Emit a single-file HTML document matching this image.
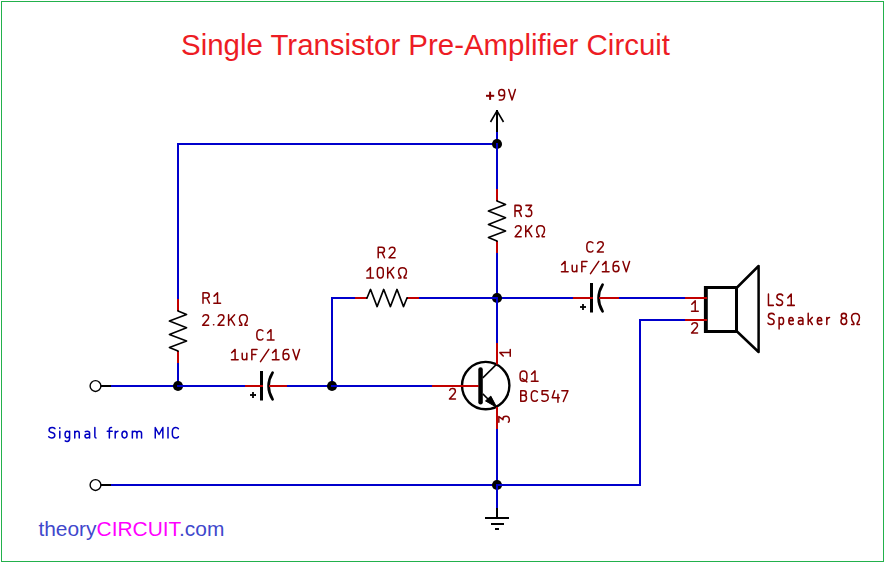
<!DOCTYPE html>
<html><head><meta charset="utf-8"><style>html,body{margin:0;padding:0;background:#fff;overflow:hidden}svg{display:block}</style></head>
<body><svg width="885" height="563" viewBox="0 0 885 563">
<rect width="885" height="563" fill="#fff"/>
<path d="M1,1H884V2H1Z M1,561H884V562H1Z M1,1H2V562H1Z M883,1H884V562H883Z" fill="#22B14C"/>
<text x="181" y="54.8" font-family="Liberation Sans, sans-serif" font-size="30" fill="#ED1C24" text-anchor="start" textLength="489" lengthAdjust="spacingAndGlyphs" >Single Transistor Pre-Amplifier Circuit</text>
<text x="38.4" y="535.5" font-family="Liberation Sans, sans-serif" font-size="21" textLength="186" lengthAdjust="spacingAndGlyphs"><tspan fill="#3F48CC">theory</tspan><tspan fill="#FF00FF">CIRCUIT</tspan><tspan fill="#3F48CC">.com</tspan></text>
<line x1="178" y1="144" x2="497" y2="144" stroke="#0000CC" stroke-width="2" stroke-linecap="square"/>
<line x1="178" y1="144" x2="178" y2="299" stroke="#0000CC" stroke-width="2" stroke-linecap="square"/>
<line x1="497" y1="132" x2="497" y2="144" stroke="#0000CC" stroke-width="2" stroke-linecap="square"/>
<line x1="497" y1="253" x2="497" y2="298" stroke="#0000CC" stroke-width="2" stroke-linecap="square"/>
<line x1="497" y1="298" x2="573" y2="298" stroke="#0000CC" stroke-width="2" stroke-linecap="square"/>
<line x1="178" y1="363" x2="178" y2="386" stroke="#0000CC" stroke-width="2" stroke-linecap="square"/>
<line x1="111" y1="386" x2="178" y2="386" stroke="#0000CC" stroke-width="2" stroke-linecap="square"/>
<line x1="332" y1="298" x2="332" y2="386" stroke="#0000CC" stroke-width="2" stroke-linecap="square"/>
<line x1="332" y1="298" x2="355" y2="298" stroke="#0000CC" stroke-width="2" stroke-linecap="square"/>
<line x1="287" y1="386" x2="332" y2="386" stroke="#0000CC" stroke-width="2" stroke-linecap="square"/>
<line x1="497" y1="429" x2="497" y2="485" stroke="#0000CC" stroke-width="2" stroke-linecap="square"/>
<line x1="111" y1="485" x2="497" y2="485" stroke="#0000CC" stroke-width="2" stroke-linecap="square"/>
<line x1="619" y1="298" x2="685" y2="298" stroke="#0000CC" stroke-width="2" stroke-linecap="square"/>
<line x1="640" y1="320" x2="685" y2="320" stroke="#0000CC" stroke-width="2" stroke-linecap="square"/>
<line x1="640" y1="320" x2="640" y2="485" stroke="#0000CC" stroke-width="2" stroke-linecap="square"/>
<rect x="260.0" y="371" width="3" height="29.5" fill="#000"/>
<path d="M272.6,372.6 Q264.6,386 272.6,399.4" fill="none" stroke="#000" stroke-width="2.7" stroke-linecap="round"/>
<line x1="250.0" y1="395" x2="256.0" y2="395" stroke="#000000" stroke-width="1.8" stroke-linecap="butt"/>
<line x1="253.0" y1="392" x2="253.0" y2="398" stroke="#000000" stroke-width="1.8" stroke-linecap="butt"/>
<rect x="590.0" y="283" width="3" height="29.5" fill="#000"/>
<path d="M602.6,284.6 Q594.6,298 602.6,311.4" fill="none" stroke="#000" stroke-width="2.7" stroke-linecap="round"/>
<line x1="580.0" y1="307" x2="586.0" y2="307" stroke="#000000" stroke-width="1.8" stroke-linecap="butt"/>
<line x1="583.0" y1="304" x2="583.0" y2="310" stroke="#000000" stroke-width="1.8" stroke-linecap="butt"/>
<line x1="497" y1="110" x2="497" y2="132" stroke="#000000" stroke-width="2" stroke-linecap="butt"/>
<polyline points="490.5,122 497,110.8 503.5,122" fill="none" stroke="#000000" stroke-width="1.6" stroke-linejoin="round" stroke-linecap="butt"/>
<line x1="497" y1="508" x2="497" y2="518" stroke="#000000" stroke-width="2" stroke-linecap="butt"/>
<line x1="485" y1="518" x2="509" y2="518" stroke="#000000" stroke-width="2" stroke-linecap="butt"/>
<line x1="491" y1="524" x2="504" y2="524" stroke="#000000" stroke-width="2" stroke-linecap="butt"/>
<line x1="495" y1="529" x2="499" y2="529" stroke="#000000" stroke-width="2" stroke-linecap="butt"/>
<circle cx="95.5" cy="386.05" r="5.4" fill="#fff" stroke="#000" stroke-width="1.4"/>
<line x1="100.7" y1="386" x2="111" y2="386" stroke="#000000" stroke-width="2" stroke-linecap="butt"/>
<circle cx="95.5" cy="485.05" r="5.4" fill="#fff" stroke="#000" stroke-width="1.4"/>
<line x1="100.7" y1="485" x2="111" y2="485" stroke="#000000" stroke-width="2" stroke-linecap="butt"/>
<circle cx="485.7" cy="385.6" r="23.7" fill="none" stroke="#000" stroke-width="2.4"/>
<line x1="480.55" y1="369.6" x2="480.55" y2="402.3" stroke="#000000" stroke-width="4.5" stroke-linecap="round"/>
<line x1="476" y1="386" x2="478.5" y2="386" stroke="#000000" stroke-width="2" stroke-linecap="butt"/>
<line x1="482.8" y1="377.9" x2="496.7" y2="364.1" stroke="#000000" stroke-width="1.5" stroke-linecap="butt"/>
<line x1="482.8" y1="393.9" x2="492" y2="403" stroke="#000000" stroke-width="1.5" stroke-linecap="butt"/>
<polygon points="496.7,407.3 485.5,400.9 490.8,396.1" fill="#000" stroke="#000" stroke-width="1"/>
<path d="M705.8,287.6 H736.5 V331.4 H705.8 Z" fill="none" stroke="#000" stroke-width="3"/>
<line x1="705.8" y1="286" x2="705.8" y2="333" stroke="#000000" stroke-width="3.8" stroke-linecap="butt"/>
<polyline points="736.5,288 758.6,266 758.6,352 736.5,331" fill="none" stroke="#000000" stroke-width="2.5" stroke-linejoin="round" stroke-linecap="round"/>
<line x1="178" y1="299" x2="178" y2="311" stroke="#C20000" stroke-width="2" stroke-linecap="butt"/>
<line x1="178" y1="351" x2="178" y2="363" stroke="#C20000" stroke-width="2" stroke-linecap="butt"/>
<line x1="497" y1="189" x2="497" y2="201" stroke="#C20000" stroke-width="2" stroke-linecap="butt"/>
<line x1="497" y1="241" x2="497" y2="253" stroke="#C20000" stroke-width="2" stroke-linecap="butt"/>
<line x1="355" y1="298" x2="367" y2="298" stroke="#C20000" stroke-width="2" stroke-linecap="butt"/>
<line x1="407" y1="298" x2="419" y2="298" stroke="#C20000" stroke-width="2" stroke-linecap="butt"/>
<line x1="245" y1="386" x2="263" y2="386" stroke="#C20000" stroke-width="2" stroke-linecap="butt"/>
<line x1="269" y1="386" x2="287" y2="386" stroke="#C20000" stroke-width="2" stroke-linecap="butt"/>
<line x1="573" y1="298" x2="593" y2="298" stroke="#C20000" stroke-width="2" stroke-linecap="butt"/>
<line x1="599" y1="298" x2="619" y2="298" stroke="#C20000" stroke-width="2" stroke-linecap="butt"/>
<line x1="685" y1="298" x2="707" y2="298" stroke="#C20000" stroke-width="2" stroke-linecap="butt"/>
<line x1="685" y1="320" x2="707" y2="320" stroke="#C20000" stroke-width="2" stroke-linecap="butt"/>
<line x1="432" y1="386" x2="478.5" y2="386" stroke="#C20000" stroke-width="2" stroke-linecap="butt"/>
<line x1="497" y1="343" x2="497" y2="364.4" stroke="#C20000" stroke-width="2" stroke-linecap="butt"/>
<line x1="497" y1="406.9" x2="497" y2="429" stroke="#C20000" stroke-width="2" stroke-linecap="butt"/>
<polyline points="178,311 186.6,314.5 169.4,321.1 186.6,327.7 169.4,334.4 186.6,341.0 169.4,347.5 178,351" fill="none" stroke="#000000" stroke-width="1.6" stroke-linejoin="round" stroke-linecap="butt"/>
<line x1="178" y1="310.2" x2="178" y2="311.6" stroke="#000000" stroke-width="1.8" stroke-linecap="butt"/>
<line x1="178" y1="350.4" x2="178" y2="351.8" stroke="#000000" stroke-width="1.8" stroke-linecap="butt"/>
<polyline points="497,201 505.6,204.5 488.4,211.1 505.6,217.7 488.4,224.4 505.6,231.0 488.4,237.5 497,241" fill="none" stroke="#000000" stroke-width="1.6" stroke-linejoin="round" stroke-linecap="butt"/>
<line x1="497" y1="200.2" x2="497" y2="201.6" stroke="#000000" stroke-width="1.8" stroke-linecap="butt"/>
<line x1="497" y1="240.4" x2="497" y2="241.8" stroke="#000000" stroke-width="1.8" stroke-linecap="butt"/>
<polyline points="367,298 370.5,289.4 377.1,306.6 383.7,289.4 390.4,306.6 397.0,289.4 403.5,306.6 407,298" fill="none" stroke="#000000" stroke-width="1.6" stroke-linejoin="round" stroke-linecap="butt"/>
<line x1="366.2" y1="298" x2="367.6" y2="298" stroke="#000000" stroke-width="1.8" stroke-linecap="butt"/>
<line x1="406.4" y1="298" x2="407.8" y2="298" stroke="#000000" stroke-width="1.8" stroke-linecap="butt"/>
<circle cx="497" cy="144" r="5.05" fill="#000"/>
<circle cx="497" cy="298" r="5.05" fill="#000"/>
<circle cx="178" cy="386" r="5.05" fill="#000"/>
<circle cx="332" cy="386" r="5.05" fill="#000"/>
<circle cx="497" cy="485" r="5.05" fill="#000"/>
<line x1="497" y1="144" x2="497" y2="188" stroke="#0000CC" stroke-width="2" stroke-linecap="square"/>
<line x1="178" y1="386" x2="244" y2="386" stroke="#0000CC" stroke-width="2" stroke-linecap="square"/>
<line x1="332" y1="386" x2="431" y2="386" stroke="#0000CC" stroke-width="2" stroke-linecap="square"/>
<line x1="420" y1="298" x2="497" y2="298" stroke="#0000CC" stroke-width="2" stroke-linecap="square"/>
<line x1="497" y1="298" x2="497" y2="342" stroke="#0000CC" stroke-width="2" stroke-linecap="square"/>
<line x1="497" y1="485" x2="640" y2="485" stroke="#0000CC" stroke-width="2" stroke-linecap="square"/>
<line x1="497" y1="485" x2="497" y2="507" stroke="#0000CC" stroke-width="2" stroke-linecap="square"/>
<g transform="translate(514.25,216.4) scale(1,1.06)" fill="none" stroke="#840000" stroke-width="1.5" stroke-linecap="round" stroke-linejoin="round"><path transform="translate(0.00,0)" d="M0.75,0 V-10.4 H4.3 C5.9,-10.4 7.0,-9.4 7.0,-7.8 C7.0,-6.2 5.9,-5.2 4.3,-5.2 H0.75 M4.6,-5.2 L7.1,0"/><path transform="translate(10.85,0)" d="M0.85,-10.4 H6.5 L3.3,-6.3 H4.1 C5.8,-6.3 6.65,-5.1 6.65,-3.2 C6.65,-1.2 5.6,0 3.8,0 H2.6 C1.8,0 1.2,-0.3 0.8,-0.9"/></g>
<g transform="translate(514.4,236.7) scale(1,1.06)" fill="none" stroke="#840000" stroke-width="1.5" stroke-linecap="round" stroke-linejoin="round"><path transform="translate(0.00,0)" d="M1.0,-8.7 C1.5,-9.9 2.4,-10.4 3.7,-10.4 H4.0 C5.6,-10.4 6.7,-9.4 6.7,-7.8 C6.7,-6.8 6.3,-6.1 5.5,-5.3 L0.75,0 H6.75"/><path transform="translate(10.60,0)" d="M0.75,-10.4 V0 M6.75,-10.4 L0.75,-4.0 M2.9,-6.3 L6.75,0"/><path transform="translate(21.35,0)" d="M0.9,0 H3.2 V-1.1 C1.7,-2.6 0.85,-4.4 0.85,-6.3 C0.85,-8.7 2.5,-10.3 4.8,-10.3 C7.1,-10.3 8.75,-8.7 8.75,-6.3 C8.75,-4.4 7.9,-2.6 6.4,-1.1 V0 H8.7"/></g>
<g transform="translate(377.45,257.75)" fill="none" stroke="#840000" stroke-width="1.5" stroke-linecap="round" stroke-linejoin="round"><path transform="translate(0.00,0)" d="M0.75,0 V-10.4 H4.3 C5.9,-10.4 7.0,-9.4 7.0,-7.8 C7.0,-6.2 5.9,-5.2 4.3,-5.2 H0.75 M4.6,-5.2 L7.1,0"/><path transform="translate(10.85,0)" d="M1.0,-8.7 C1.5,-9.9 2.4,-10.4 3.7,-10.4 H4.0 C5.6,-10.4 6.7,-9.4 6.7,-7.8 C6.7,-6.8 6.3,-6.1 5.5,-5.3 L0.75,0 H6.75"/></g>
<g transform="translate(366,278)" fill="none" stroke="#840000" stroke-width="1.5" stroke-linecap="round" stroke-linejoin="round"><path transform="translate(0.00,0)" d="M4.4,0 V-10.4 L1.0,-7.0 M0.75,0 H7.45"/><path transform="translate(10.60,0)" d="M3.7,-10.4 C5.6,-10.4 6.65,-9.0 6.65,-7.0 V-3.4 C6.65,-1.4 5.6,0 3.7,0 C1.8,0 0.75,-1.4 0.75,-3.4 V-7.0 C0.75,-9.0 1.8,-10.4 3.7,-10.4 Z"/><path transform="translate(20.95,0)" d="M0.75,-10.4 V0 M6.75,-10.4 L0.75,-4.0 M2.9,-6.3 L6.75,0"/><path transform="translate(31.70,0)" d="M0.9,0 H3.2 V-1.1 C1.7,-2.6 0.85,-4.4 0.85,-6.3 C0.85,-8.7 2.5,-10.3 4.8,-10.3 C7.1,-10.3 8.75,-8.7 8.75,-6.3 C8.75,-4.4 7.9,-2.6 6.4,-1.1 V0 H8.7"/></g>
<g transform="translate(202.25,303.15)" fill="none" stroke="#840000" stroke-width="1.5" stroke-linecap="round" stroke-linejoin="round"><path transform="translate(0.00,0)" d="M0.75,0 V-10.4 H4.3 C5.9,-10.4 7.0,-9.4 7.0,-7.8 C7.0,-6.2 5.9,-5.2 4.3,-5.2 H0.75 M4.6,-5.2 L7.1,0"/><path transform="translate(10.85,0)" d="M4.4,0 V-10.4 L1.0,-7.0 M0.75,0 H7.45"/></g>
<g transform="translate(201.9,325.15)" fill="none" stroke="#840000" stroke-width="1.5" stroke-linecap="round" stroke-linejoin="round"><path transform="translate(0.00,0)" d="M1.0,-8.7 C1.5,-9.9 2.4,-10.4 3.7,-10.4 H4.0 C5.6,-10.4 6.7,-9.4 6.7,-7.8 C6.7,-6.8 6.3,-6.1 5.5,-5.3 L0.75,0 H6.75"/><path transform="translate(10.60,0)" d="M1.0,-0.35 H1.3"/><path transform="translate(15.35,0)" d="M1.0,-8.7 C1.5,-9.9 2.4,-10.4 3.7,-10.4 H4.0 C5.6,-10.4 6.7,-9.4 6.7,-7.8 C6.7,-6.8 6.3,-6.1 5.5,-5.3 L0.75,0 H6.75"/><path transform="translate(25.95,0)" d="M0.75,-10.4 V0 M6.75,-10.4 L0.75,-4.0 M2.9,-6.3 L6.75,0"/><path transform="translate(36.70,0)" d="M0.9,0 H3.2 V-1.1 C1.7,-2.6 0.85,-4.4 0.85,-6.3 C0.85,-8.7 2.5,-10.3 4.8,-10.3 C7.1,-10.3 8.75,-8.7 8.75,-6.3 C8.75,-4.4 7.9,-2.6 6.4,-1.1 V0 H8.7"/></g>
<g transform="translate(256.1,340.05)" fill="none" stroke="#840000" stroke-width="1.5" stroke-linecap="round" stroke-linejoin="round"><path transform="translate(0.00,0)" d="M6.8,-9.2 C6.2,-10.0 5.3,-10.4 4.2,-10.4 C2.2,-10.4 0.75,-8.8 0.75,-6.4 V-4.0 C0.75,-1.6 2.2,0 4.2,0 C5.3,0 6.2,-0.4 6.8,-1.2"/><path transform="translate(10.50,0)" d="M4.4,0 V-10.4 L1.0,-7.0 M0.75,0 H7.45"/></g>
<g transform="translate(230.7,359.8)" fill="none" stroke="#840000" stroke-width="1.5" stroke-linecap="round" stroke-linejoin="round"><path transform="translate(0.00,0)" d="M4.4,0 V-10.4 L1.0,-7.0 M0.75,0 H7.45"/><path transform="translate(10.75,0)" d="M0.75,-6.6 V-2.3 C0.75,-0.8 1.5,0 2.8,0 C4.0,0 4.9,-0.7 5.35,-1.6 M5.35,-6.6 V0"/><path transform="translate(20.40,0)" d="M0.75,0 V-10.4 H5.95 M0.75,-5.3 H4.7"/><path transform="translate(29.05,0)" d="M0.75,1.9 L9.05,-10.4"/><path transform="translate(40.90,0)" d="M4.4,0 V-10.4 L1.0,-7.0 M0.75,0 H7.45"/><path transform="translate(51.65,0)" d="M5.9,-10.4 H3.9 C2.0,-10.4 0.75,-8.6 0.75,-5.5 V-3.4 C0.75,-1.2 1.9,0 3.6,0 C5.5,0 6.65,-1.2 6.65,-3.2 C6.65,-5.2 5.5,-6.3 3.7,-6.3 C2.4,-6.3 1.4,-5.8 0.75,-5.0"/><path transform="translate(61.50,0)" d="M0.75,-10.4 L4.05,0 L7.35,-10.4"/></g>
<g transform="translate(586.1,252.05)" fill="none" stroke="#840000" stroke-width="1.5" stroke-linecap="round" stroke-linejoin="round"><path transform="translate(0.00,0)" d="M6.8,-9.2 C6.2,-10.0 5.3,-10.4 4.2,-10.4 C2.2,-10.4 0.75,-8.8 0.75,-6.4 V-4.0 C0.75,-1.6 2.2,0 4.2,0 C5.3,0 6.2,-0.4 6.8,-1.2"/><path transform="translate(10.50,0)" d="M1.0,-8.7 C1.5,-9.9 2.4,-10.4 3.7,-10.4 H4.0 C5.6,-10.4 6.7,-9.4 6.7,-7.8 C6.7,-6.8 6.3,-6.1 5.5,-5.3 L0.75,0 H6.75"/></g>
<g transform="translate(560.7,271.8)" fill="none" stroke="#840000" stroke-width="1.5" stroke-linecap="round" stroke-linejoin="round"><path transform="translate(0.00,0)" d="M4.4,0 V-10.4 L1.0,-7.0 M0.75,0 H7.45"/><path transform="translate(10.75,0)" d="M0.75,-6.6 V-2.3 C0.75,-0.8 1.5,0 2.8,0 C4.0,0 4.9,-0.7 5.35,-1.6 M5.35,-6.6 V0"/><path transform="translate(20.40,0)" d="M0.75,0 V-10.4 H5.95 M0.75,-5.3 H4.7"/><path transform="translate(29.05,0)" d="M0.75,1.9 L9.05,-10.4"/><path transform="translate(40.90,0)" d="M4.4,0 V-10.4 L1.0,-7.0 M0.75,0 H7.45"/><path transform="translate(51.65,0)" d="M5.9,-10.4 H3.9 C2.0,-10.4 0.75,-8.6 0.75,-5.5 V-3.4 C0.75,-1.2 1.9,0 3.6,0 C5.5,0 6.65,-1.2 6.65,-3.2 C6.65,-5.2 5.5,-6.3 3.7,-6.3 C2.4,-6.3 1.4,-5.8 0.75,-5.0"/><path transform="translate(61.50,0)" d="M0.75,-10.4 L4.05,0 L7.35,-10.4"/></g>
<g transform="translate(519.3,381.3)" fill="none" stroke="#840000" stroke-width="1.5" stroke-linecap="round" stroke-linejoin="round"><path transform="translate(0.00,0)" d="M4.2,-10.4 C6.3,-10.4 7.6,-8.9 7.6,-6.6 V-3.8 C7.6,-1.5 6.3,0 4.2,0 C2.1,0 0.8,-1.5 0.8,-3.8 V-6.6 C0.8,-8.9 2.1,-10.4 4.2,-10.4 Z M3.0,-2.8 L7.6,0.6"/><path transform="translate(11.30,0)" d="M4.4,0 V-10.4 L1.0,-7.0 M0.75,0 H7.45"/></g>
<g transform="translate(520,401.15)" fill="none" stroke="#840000" stroke-width="1.5" stroke-linecap="round" stroke-linejoin="round"><path transform="translate(0.00,0)" d="M0.75,0 V-10.4 H3.9 C5.4,-10.4 6.2,-9.5 6.2,-8.0 C6.2,-6.6 5.4,-5.8 3.9,-5.8 H0.75 M3.9,-5.8 C5.6,-5.8 6.5,-4.9 6.5,-2.9 C6.5,-1.0 5.6,0 3.9,0 H0.75"/><path transform="translate(10.60,0)" d="M6.8,-9.2 C6.2,-10.0 5.3,-10.4 4.2,-10.4 C2.2,-10.4 0.75,-8.8 0.75,-6.4 V-4.0 C0.75,-1.6 2.2,0 4.2,0 C5.3,0 6.2,-0.4 6.8,-1.2"/><path transform="translate(21.10,0)" d="M6.9,-10.4 H1.0 V-6.6 C1.7,-6.9 2.6,-7.0 3.6,-7.0 C5.9,-7.0 7.1,-5.6 7.1,-3.4 C7.1,-1.2 5.8,0 3.7,0 H2.6 C1.8,0 1.2,-0.3 0.8,-0.7"/><path transform="translate(31.45,0)" d="M3.1,-10.4 L0.75,-3.5 H7.8 M6.5,-6.9 V1.2"/><path transform="translate(41.25,0)" d="M0.6,-10.4 H6.7 L2.1,0.4"/></g>
<g transform="translate(767.7,305.4) scale(1,1.08)" fill="none" stroke="#840000" stroke-width="1.5" stroke-linecap="round" stroke-linejoin="round"><path transform="translate(0.00,0)" d="M0.75,-10.4 V0 H5.6"/><path transform="translate(8.20,0)" d="M6.8,-9.3 C6.2,-10.0 5.3,-10.4 4.0,-10.4 C2.0,-10.4 1.0,-9.4 1.0,-7.9 C1.0,-6.4 2.1,-5.7 3.8,-5.3 C5.8,-4.8 6.7,-4.0 6.7,-2.6 C6.7,-0.9 5.6,0 3.6,0 C2.3,0 1.3,-0.4 0.6,-1.2"/><path transform="translate(19.15,0)" d="M4.4,0 V-10.4 L1.0,-7.0 M0.75,0 H7.45"/></g>
<g transform="translate(767.4,324.5) scale(1,1.07)" fill="none" stroke="#840000" stroke-width="1.5" stroke-linecap="round" stroke-linejoin="round"><path transform="translate(0.00,0)" d="M6.8,-9.3 C6.2,-10.0 5.3,-10.4 4.0,-10.4 C2.0,-10.4 1.0,-9.4 1.0,-7.9 C1.0,-6.4 2.1,-5.7 3.8,-5.3 C5.8,-4.8 6.7,-4.0 6.7,-2.6 C6.7,-0.9 5.6,0 3.6,0 C2.3,0 1.3,-0.4 0.6,-1.2"/><path transform="translate(10.95,0)" d="M0.75,-6.6 V4.2 M0.75,-5.0 C1.3,-6.0 2.0,-6.6 3.1,-6.6 C4.6,-6.6 5.25,-5.4 5.25,-3.3 C5.25,-1.2 4.6,0 3.1,0 C2.0,0 1.3,-0.6 0.75,-1.6"/><path transform="translate(20.65,0)" d="M5.2,-0.6 C4.6,-0.1 4.0,0 3.1,0 C1.5,0 0.75,-1.2 0.75,-3.3 C0.75,-5.4 1.6,-6.6 3.0,-6.6 C4.4,-6.6 5.2,-5.5 5.2,-3.6 H0.75"/><path transform="translate(30.15,0)" d="M1.1,-6.2 C1.6,-6.5 2.2,-6.6 3.0,-6.6 C4.6,-6.6 5.4,-5.9 5.4,-4.6 V0 M5.4,-3.6 H2.8 C1.4,-3.6 0.75,-2.9 0.75,-1.8 C0.75,-0.6 1.5,0 2.7,0 C3.9,0 4.8,-0.5 5.4,-1.3"/><path transform="translate(40.05,0)" d="M0.75,-10.4 V0 M4.9,-6.6 L0.75,-2.6 M2.3,-4.1 L4.9,0"/><path transform="translate(49.15,0)" d="M5.2,-0.6 C4.6,-0.1 4.0,0 3.1,0 C1.5,0 0.75,-1.2 0.75,-3.3 C0.75,-5.4 1.6,-6.6 3.0,-6.6 C4.4,-6.6 5.2,-5.5 5.2,-3.6 H0.75"/><path transform="translate(58.65,0)" d="M0.75,-6.6 V0 M0.75,-4.3 C1.3,-5.9 2.2,-6.6 3.5,-6.6"/><path transform="translate(72.80,0)" d="M3.7,-5.9 C5.3,-5.9 6.5,-4.9 6.5,-2.95 C6.5,-1.0 5.3,0 3.7,0 C2.1,0 0.75,-1.0 0.75,-2.95 C0.75,-4.9 2.1,-5.9 3.7,-5.9 C2.2,-5.9 1.1,-6.8 1.1,-8.2 C1.1,-9.6 2.2,-10.4 3.7,-10.4 C5.2,-10.4 6.2,-9.6 6.2,-8.2 C6.2,-6.8 5.2,-5.9 3.7,-5.9 Z"/><path transform="translate(83.30,0)" d="M0.9,0 H3.2 V-1.1 C1.7,-2.6 0.85,-4.4 0.85,-6.3 C0.85,-8.7 2.5,-10.3 4.8,-10.3 C7.1,-10.3 8.75,-8.7 8.75,-6.3 C8.75,-4.4 7.9,-2.6 6.4,-1.1 V0 H8.7"/></g>
<g transform="translate(448.7,398.95)" fill="none" stroke="#840000" stroke-width="1.5" stroke-linecap="round" stroke-linejoin="round"><path transform="translate(0.00,0)" d="M1.0,-8.7 C1.5,-9.9 2.4,-10.4 3.7,-10.4 H4.0 C5.6,-10.4 6.7,-9.4 6.7,-7.8 C6.7,-6.8 6.3,-6.1 5.5,-5.3 L0.75,0 H6.75"/></g>
<g transform="translate(690.8,311.25)" fill="none" stroke="#840000" stroke-width="1.5" stroke-linecap="round" stroke-linejoin="round"><path transform="translate(0.00,0)" d="M4.4,0 V-10.4 L1.0,-7.0 M0.75,0 H7.45"/></g>
<g transform="translate(690.8,333.05)" fill="none" stroke="#840000" stroke-width="1.5" stroke-linecap="round" stroke-linejoin="round"><path transform="translate(0.00,0)" d="M1.0,-8.7 C1.5,-9.9 2.4,-10.4 3.7,-10.4 H4.0 C5.6,-10.4 6.7,-9.4 6.7,-7.8 C6.7,-6.8 6.3,-6.1 5.5,-5.3 L0.75,0 H6.75"/></g>
<g transform="translate(510.25,357) rotate(-90)" fill="none" stroke="#840000" stroke-width="1.5" stroke-linecap="round" stroke-linejoin="round"><path transform="translate(0.00,0)" d="M4.4,0 V-10.4 L1.0,-7.0 M0.75,0 H7.45"/></g>
<g transform="translate(509.25,423) rotate(-90)" fill="none" stroke="#840000" stroke-width="1.5" stroke-linecap="round" stroke-linejoin="round"><path transform="translate(0.00,0)" d="M0.85,-10.4 H6.5 L3.3,-6.3 H4.1 C5.8,-6.3 6.65,-5.1 6.65,-3.2 C6.65,-1.2 5.6,0 3.8,0 H2.6 C1.8,0 1.2,-0.3 0.8,-0.9"/></g>
<g transform="translate(498,99.9)" fill="none" stroke="#840000" stroke-width="1.5" stroke-linecap="round" stroke-linejoin="round"><path transform="translate(0.00,0)" d="M1.3,0 H3.3 C5.3,0 6.6,-1.8 6.6,-4.9 V-7.0 C6.6,-9.2 5.4,-10.4 3.7,-10.4 C1.8,-10.4 0.75,-9.2 0.75,-7.2 C0.75,-5.2 1.8,-4.1 3.6,-4.1 C4.9,-4.1 5.9,-4.6 6.6,-5.4"/><path transform="translate(10.00,0)" d="M0.75,-10.4 L4.05,0 L7.35,-10.4"/></g>
<line x1="486" y1="95.8" x2="494.2" y2="95.8" stroke="#840000" stroke-width="2" stroke-linecap="butt"/>
<line x1="490.1" y1="91.7" x2="490.1" y2="99.9" stroke="#840000" stroke-width="2" stroke-linecap="butt"/>
<g transform="translate(48.1,437.9)" fill="none" stroke="#0000C2" stroke-width="1.5" stroke-linecap="round" stroke-linejoin="round"><path transform="translate(0.00,0)" d="M6.8,-9.3 C6.2,-10.0 5.3,-10.4 4.0,-10.4 C2.0,-10.4 1.0,-9.4 1.0,-7.9 C1.0,-6.4 2.1,-5.7 3.8,-5.3 C5.8,-4.8 6.7,-4.0 6.7,-2.6 C6.7,-0.9 5.6,0 3.6,0 C2.3,0 1.3,-0.4 0.6,-1.2"/><path transform="translate(10.95,0)" d="M0.75,-6.6 V0 M0.75,-10.1 V-9.6"/><path transform="translate(16.20,0)" d="M5.3,-6.6 V0.7 C5.3,2.6 4.4,3.6 2.8,3.6 C2.0,3.6 1.4,3.4 0.9,3.0 M5.3,-5.0 C4.8,-6.0 4.0,-6.6 3.0,-6.6 C1.5,-6.6 0.75,-5.4 0.75,-3.4 C0.75,-1.4 1.5,-0.2 3.0,-0.2 C4.0,-0.2 4.8,-0.8 5.3,-1.8"/><path transform="translate(25.90,0)" d="M0.75,-6.6 V0 M0.75,-4.9 C1.3,-6.0 2.2,-6.6 3.3,-6.6 C4.6,-6.6 5.25,-5.8 5.25,-4.4 V0"/><path transform="translate(36.10,0)" d="M1.1,-6.2 C1.6,-6.5 2.2,-6.6 3.0,-6.6 C4.6,-6.6 5.4,-5.9 5.4,-4.6 V0 M5.4,-3.6 H2.8 C1.4,-3.6 0.75,-2.9 0.75,-1.8 C0.75,-0.6 1.5,0 2.7,0 C3.9,0 4.8,-0.5 5.4,-1.3"/><path transform="translate(46.00,0)" d="M0.75,-10.4 V-1.3 C0.75,-0.4 1.2,0 1.9,0"/><path transform="translate(58.40,0)" d="M2.85,0 V-8.6 C2.85,-9.8 3.5,-10.4 4.6,-10.4 H5.0 M0.75,-6.6 H5.75"/><path transform="translate(66.35,0)" d="M0.75,-6.6 V0 M0.75,-4.3 C1.3,-5.9 2.2,-6.6 3.5,-6.6"/><path transform="translate(73.10,0)" d="M3.3,-6.6 C4.9,-6.6 5.85,-5.5 5.85,-3.3 C5.85,-1.1 4.9,0 3.3,0 C1.7,0 0.75,-1.1 0.75,-3.3 C0.75,-5.5 1.7,-6.6 3.3,-6.6 Z"/><path transform="translate(83.50,0)" d="M0.75,-6.6 V0 M0.75,-5.0 C1.2,-6.1 1.9,-6.6 2.9,-6.6 C4.3,-6.6 5.35,-5.9 5.35,-4.6 V0 M5.35,-4.9 C5.8,-6.0 6.5,-6.6 7.5,-6.6 C8.9,-6.6 9.95,-5.9 9.95,-4.6 V0"/><path transform="translate(106.40,0)" d="M0.75,0 V-10.4 L4.55,-3.4 L8.35,-10.4 V0"/><path transform="translate(119.15,0)" d="M0.75,-10.4 V0"/><path transform="translate(123.50,0)" d="M6.8,-9.2 C6.2,-10.0 5.3,-10.4 4.2,-10.4 C2.2,-10.4 0.75,-8.8 0.75,-6.4 V-4.0 C0.75,-1.6 2.2,0 4.2,0 C5.3,0 6.2,-0.4 6.8,-1.2"/></g>
</svg></body></html>
